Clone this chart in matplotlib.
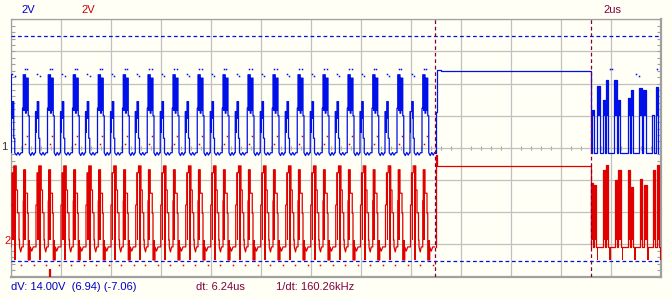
import numpy as np
import matplotlib.pyplot as plt
from matplotlib.ticker import MultipleLocator

# scope screen: 13 div of 2us, 8 div of 2V, ch1 ground in the middle
T_DIV, V_DIV = 2.0, 2.0
N_TDIV, N_VDIV = 13, 8
CH2_OFFSET = -5.82   # ch2 ground ("2" marker), in ch1 volts

BLUE = '#0010e8'
RED = '#e00000'
MAROON = '#800040'
BG = '#fffff5'
GRID = '#c0c0c0'
FRAME = '#a0a0a0'

# ---- burst 1: start of each pulse period (us)
burst1_starts = [-0.02, 0.98, 1.98, 2.98, 3.98, 4.97, 5.97, 6.97, 7.97, 8.97,
                 9.97, 10.97, 11.97, 12.97, 13.96, 14.96, 15.96]

# one ch1 period: outline (us from period start, V)
ch1_off = [0.00, 0.00, 0.07, 0.07, 0.13, 0.13, 0.17, 0.17, 0.24, 0.30, 0.36, 0.42,
           0.48, 0.48, 0.51, 0.51, 0.60, 0.60, 0.63, 0.63, 0.71, 0.71, 0.75, 0.75,
           0.81, 0.87, 0.93, 0.98]
ch1_val = [-0.30, 2.26, 2.26, 2.88, 2.88, 0.60, 0.60, -0.30, -0.45, -0.28, -0.45, -0.30,
           -0.30, 2.47, 2.47, 4.55, 4.55, 2.16, 2.16, 4.34, 4.34, 2.00, 2.00, -0.30,
           -0.48, -0.28, -0.45, -0.30]
# smeared (fast ringing) parts of the ch1 period
ch1_bar_t0 = [0.00, 0.07, 0.51, 0.63]
ch1_bar_t1 = [0.06, 0.13, 0.59, 0.71]
ch1_bar_lo = [0.90, 1.80, 2.30, 2.30]
ch1_bar_hi = [2.26, 2.88, 4.55, 4.34]
ch1_dot_off = [0.06, 0.16, 0.56, 0.65]
ch1_dot_val = [4.58, 4.47, 4.89, 4.89]

# one ch2 period (ch2 volts)
ch2_off = [0.00, 0.02, 0.02, 0.06, 0.06, 0.13, 0.13, 0.23, 0.23, 0.28, 0.28, 0.34,
           0.34, 0.36, 0.36, 0.41, 0.45, 0.51, 0.51, 0.53, 0.53, 0.60, 0.60, 0.68,
           0.68, 0.71, 0.71, 0.79, 0.79, 0.85, 0.91, 0.98]
ch2_val = [-0.34, -0.34, 2.27, 2.27, 4.27, 4.27, 4.70, 4.70, 3.20, 3.20, 1.78, 1.78,
           0.09, 0.09, -0.34, -0.65, -0.34, -0.34, 2.52, 2.52, 4.46, 4.46, 3.00, 3.00,
           1.76, 1.76, -1.15, -1.15, -0.34, -0.60, -0.34, -0.34]
ch2_bar_t0 = [0.06, 0.14, 0.51, 0.71]
ch2_bar_t1 = [0.12, 0.23, 0.60, 0.78]
ch2_bar_lo = [0.09, -1.15, 0.09, -1.15]
ch2_bar_hi = [4.27, 4.70, 4.46, 0.09]
ch2_dot_off = [0.40, 0.56, 0.66, 0.92]
ch2_dot_val = [-1.45, 6.05, 6.55, -1.45]

# first sample at the left edge
ch1_edge_bar = (0.0, 0.05, -0.30, 4.60)

# ---- gap between the bursts: both outputs held high
ch1_gap_t = [16.98, 16.98, 17.03, 17.03, 17.19, 17.19, 23.21, 23.21]
ch1_gap_v = [-0.30, 2.26, 2.26, 4.85, 4.85, 4.76, 4.76, -0.30]
ch2_gap_t = [16.98, 17.00, 17.00, 17.05, 17.05, 23.21, 23.21]
ch2_gap_v = [-0.34, -0.34, 5.38, 5.38, 4.72, 4.72, 0.50]
ch2_gap_bar = (16.99, 17.04, 2.80, 5.38)

# ---- burst 2 pulses (start, end, top)
ch1_b2_t0 = [23.23, 23.43, 23.67, 23.80, 24.13, 24.29, 24.67, 24.80, 25.13, 25.29, 25.65, 25.80]
ch1_b2_t1 = [23.32, 23.56, 23.75, 23.89, 24.23, 24.36, 24.76, 24.89, 25.23, 25.39, 25.73, 25.89]
ch1_b2_top = [2.37, 3.82, 2.99, 4.24, 4.24, 2.99, 3.10, 3.60, 3.70, 3.60, 2.05, 3.80]
ch1_b2_dot_t = [23.95, 24.05, 24.98, 25.10, 25.83]
ch1_b2_dot_v = [4.90, 4.90, 4.60, 4.50, 4.90]

ch2_b2_t0 = [23.21, 23.32, 23.67, 23.80, 24.16, 24.29, 24.67, 24.80, 25.16, 25.33, 25.67, 25.83]
ch2_b2_t1 = [23.29, 23.40, 23.75, 23.89, 24.23, 24.39, 24.76, 24.89, 25.25, 25.43, 25.76, 25.92]
ch2_b2_top = [3.65, 3.52, 4.46, 4.77, 3.83, 4.46, 4.46, 3.41, 3.90, 3.52, 4.46, 4.77]
ch2_b2_dips = [23.42, 23.92, 24.42, 24.92, 25.45, 25.95]

# cursors
v_cursors = [6.94, -7.06]
t_cursors = [16.97, 23.21]
trigger_t = 1.56


def repeat(starts, off, val):
    t = np.concatenate([s + np.asarray(off) for s in starts])
    v = np.tile(val, len(starts))
    return t, v


def pulses(t0, t1, top, base):
    t, v = [], []
    for a, b, h in zip(t0, t1, top):
        t += [a, a, b, b]
        v += [base, h, h, base]
    return t, v


fig = plt.figure(figsize=(6.72, 2.99), dpi=100, facecolor=BG)
ax = fig.add_axes([11 / 672, 22.5 / 299, 650 / 672, 257.2 / 299])
ax.set_facecolor(BG)
ax.set_xlim(0, N_TDIV * T_DIV)
ax.set_ylim(-N_VDIV / 2 * V_DIV, N_VDIV / 2 * V_DIV)

# grid + frame
ax.set_xticks(np.arange(0, N_TDIV * T_DIV + 0.1, T_DIV))
ax.set_yticks(np.arange(-8, 8.1, V_DIV))
ax.yaxis.set_minor_locator(MultipleLocator(0.4))
ax.grid(True, which='major', color=GRID, lw=0.9, zorder=0)
ax.tick_params(axis='x', which='both', length=0, labelbottom=False)
ax.tick_params(axis='y', which='both', direction='in', length=3, width=0.8,
               color=FRAME, left=True, right=True, labelleft=False)
for side, sp in ax.spines.items():
    sp.set_color(FRAME)
    sp.set_linewidth(1.6 if side in ('bottom', 'right') else 0.9)
ax.plot(np.arange(0.4, 26, 0.4), np.zeros(64), ls='none', marker='|', ms=3.5,
        mew=0.8, color=FRAME, zorder=1)

# ch1
t, v = repeat(burst1_starts, ch1_off, ch1_val)
ax.plot(t, v, color=BLUE, lw=0.9, zorder=3)
for s in burst1_starts:
    ax.bar(np.add(s, ch1_bar_t0), np.subtract(ch1_bar_hi, ch1_bar_lo),
           width=np.subtract(ch1_bar_t1, ch1_bar_t0), bottom=ch1_bar_lo,
           align='edge', color=BLUE, lw=0, zorder=3)
dt_, dv_ = repeat(burst1_starts, ch1_dot_off, ch1_dot_val)
ax.plot(dt_, dv_, ls='none', marker='s', ms=1.1, color=BLUE, mew=0, zorder=3)
a, b, lo, hi = ch1_edge_bar
ax.bar(a, hi - lo, width=b - a, bottom=lo, align='edge', color=BLUE, lw=0, zorder=3)
ax.plot(ch1_gap_t, ch1_gap_v, color=BLUE, lw=0.9, zorder=3)
t, v = pulses(ch1_b2_t0, ch1_b2_t1, ch1_b2_top, -0.30)
ax.plot(t, v, color=BLUE, lw=0.9, zorder=3)
ax.bar(ch1_b2_t0, np.subtract(ch1_b2_top, 2.0), width=np.subtract(ch1_b2_t1, ch1_b2_t0),
       bottom=2.0, align='edge', color=BLUE, lw=0, zorder=3)
ax.plot(ch1_b2_dot_t, ch1_b2_dot_v, ls='none', marker='s', ms=1.1, color=BLUE, mew=0, zorder=3)

# ch2 (shifted to its ground marker)
t, v = repeat(burst1_starts, ch2_off, ch2_val)
ax.plot(t, v + CH2_OFFSET, color=RED, lw=0.9, zorder=4)
for s in burst1_starts:
    ax.bar(np.add(s, ch2_bar_t0), np.subtract(ch2_bar_hi, ch2_bar_lo),
           width=np.subtract(ch2_bar_t1, ch2_bar_t0), bottom=np.add(ch2_bar_lo, CH2_OFFSET),
           align='edge', color=RED, lw=0, zorder=4)
dt_, dv_ = repeat(burst1_starts, ch2_dot_off, ch2_dot_val)
ax.plot(dt_, dv_ + CH2_OFFSET, ls='none', marker='s', ms=1.1, color=RED, mew=0, zorder=4)
ax.plot(ch2_gap_t, np.add(ch2_gap_v, CH2_OFFSET), color=RED, lw=0.9, zorder=4)
a, b, lo, hi = ch2_gap_bar
ax.bar(a, hi - lo, width=b - a, bottom=lo + CH2_OFFSET, align='edge', color=RED, lw=0, zorder=4)
t, v = pulses(ch2_b2_t0, ch2_b2_t1, ch2_b2_top, -0.34)
ax.plot(t, np.add(v, CH2_OFFSET), color=RED, lw=0.9, zorder=4)
ax.bar(ch2_b2_t0, np.subtract(ch2_b2_top, 0.09), width=np.subtract(ch2_b2_t1, ch2_b2_t0),
       bottom=0.09 + CH2_OFFSET, align='edge', color=RED, lw=0, zorder=4)
ax.bar(ch2_b2_dips, 0.81, width=0.07, bottom=-1.15 + CH2_OFFSET, align='edge',
       color=RED, lw=0, zorder=4)

# cursors and trigger mark
for vc in v_cursors:
    ax.axhline(vc, color=BLUE, lw=0.9, ls=(0, (3, 2.2)), zorder=6)
for tc in t_cursors:
    ax.axvline(tc, color=MAROON, lw=0.9, ls=(0, (3, 2.2)), zorder=6)
ax.plot([trigger_t, trigger_t], [-7.55, -8.0], color=RED, lw=1.6, zorder=7,
        clip_on=False, solid_capstyle='butt')

# labels
fk = dict(fontsize=8, family='Liberation Sans', va='center')
fig.text(21 / 672, 1 - 10 / 299, '2V', color='#0000c8', **fk)
fig.text(81 / 672, 1 - 10 / 299, '2V', color='#c80000', **fk)
fig.text(603 / 672, 1 - 10 / 299, '2us', color=MAROON, **fk)
fig.text(1 / 672, 1 - 147 / 299, '1', color='#303030', **fk)
fig.text(4 / 672, 1 - 241 / 299, '2', color=RED, **fk)
fig.text(11 / 672, 1 - 287 / 299, 'dV: 14.00V  (6.94) (-7.06)', color='#0000c8', **fk)
fig.text(196 / 672, 1 - 287 / 299, 'dt: 6.24us', color=MAROON, **fk)
fig.text(276 / 672, 1 - 287 / 299, '1/dt: 160.26kHz', color=MAROON, **fk)

fig.savefig('out.png', dpi=100, facecolor=BG)
